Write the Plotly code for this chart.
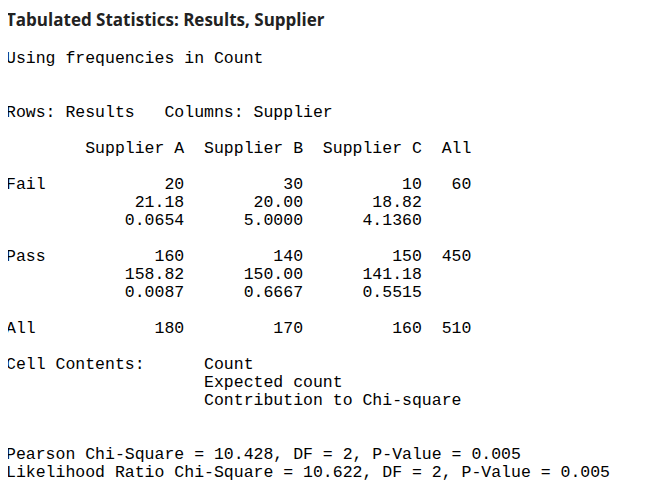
import plotly.graph_objects as go

title = "Tabulated Statistics: Results, Supplier"
columns = ["Supplier A", "Supplier B", "Supplier C", "All"]
rows = ["Fail", "Pass"]
counts = [[20, 30, 10], [160, 140, 150]]
expected = [[21.18, 20.00, 18.82], [158.82, 150.00, 141.18]]
contrib = [[0.0654, 5.0000, 4.1360], [0.0087, 0.6667, 0.5515]]
row_totals = [60, 450]
col_totals = [180, 170, 160]
grand_total = 510
cell_contents = ["Count", "Expected count", "Contribution to Chi-square"]
tests = [("Pearson Chi-Square", 10.428, 2, 0.005),
         ("Likelihood Ratio Chi-Square", 10.622, 2, 0.005)]

W, H = 648, 489
OFF = 8  # page body margin
lines = []  # (y_px, text)
lines.append((58, "Using frequencies in Count"))
lines.append((112, "Rows: Results   Columns: Supplier"))
lines.append((148, " " * 8 + "".join(f"{c:<12}" for c in columns[:3]) + columns[3]))
y = 184
for i, r in enumerate(rows):
    lines.append((y, f"{r:<8}" + f"{counts[i][0]:>10}" + "".join(f"{v:>12}" for v in counts[i][1:]) + f"{row_totals[i]:>5}"))
    lines.append((y + 18, " " * 8 + f"{expected[i][0]:>10.2f}" + "".join(f"{v:>12.2f}" for v in expected[i][1:])))
    lines.append((y + 36, " " * 8 + f"{contrib[i][0]:>10.4f}" + "".join(f"{v:>12.4f}" for v in contrib[i][1:])))
    y += 72
lines.append((328, f"{'All':<8}" + f"{col_totals[0]:>10}" + "".join(f"{v:>12}" for v in col_totals[1:]) + f"{grand_total:>5}"))
for k, t in enumerate(cell_contents):
    prefix = f"{'Cell Contents:':<20}" if k == 0 else " " * 20
    lines.append((364 + 18 * k, prefix + t))
for k, (name, chi, df, p) in enumerate(tests):
    lines.append((454 + 18 * k, f"{name} = {chi:.3f}, DF = {df}, P-Value = {p:.3f}"))

fig = go.Figure()
ann = [dict(text="<b>" + title + "</b>", x=(5 - OFF) / W, y=1 - (19 - OFF) / H, xref="paper", yref="paper",
            xanchor="left", yanchor="middle", showarrow=False, borderpad=0,
            font=dict(family="Open Sans", size=17, color="#222222"))]
for yp, t in lines:
    ann.append(dict(text=t.replace(" ", "\u00a0"), x=(5 - OFF) / W, y=1 - (yp - OFF) / H,
                    xref="paper", yref="paper", borderpad=0,
                    xanchor="left", yanchor="middle", showarrow=False,
                    font=dict(family="Liberation Mono", size=16.5, color="black")))
fig.update_layout(width=W, height=H, margin=dict(l=0, r=0, t=0, b=0),
                  paper_bgcolor="white", plot_bgcolor="white", annotations=ann,
                  xaxis=dict(visible=False), yaxis=dict(visible=False))
fig.write_html("out.html")
